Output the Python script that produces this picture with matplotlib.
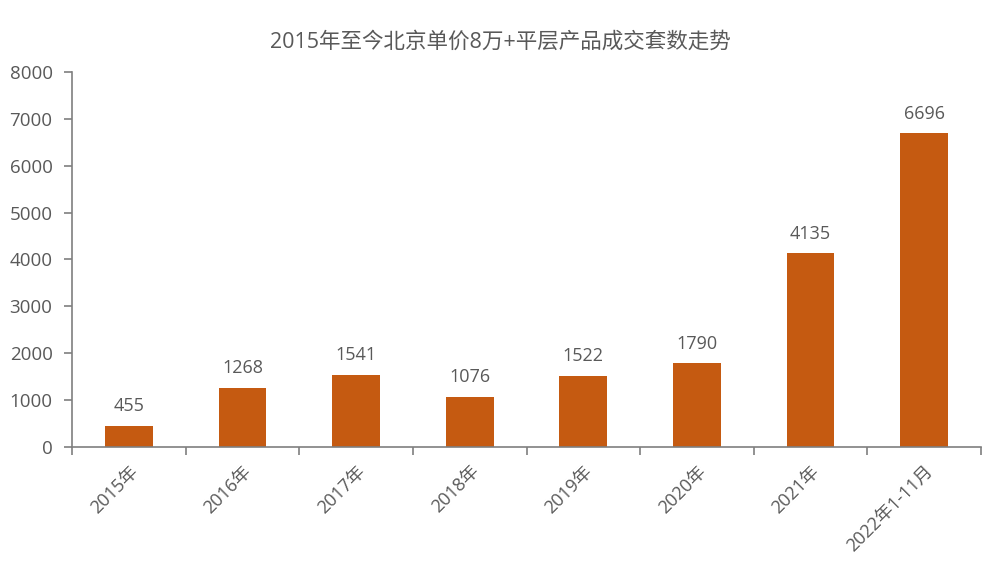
import numpy as np
import matplotlib.pyplot as plt
from matplotlib.ticker import FixedLocator

plt.rcParams['font.family'] = ['Open Sans', 'Noto Sans CJK SC', 'DejaVu Sans']

# data
categories = ['2015年', '2016年', '2017年', '2018年', '2019年', '2020年', '2021年', '2022年1-11月']
values = [455, 1268, 1541, 1076, 1522, 1790, 4135, 6696]

bar_color = '#C55A11'
text_color = '#595959'
axis_color = '#7f7f7f'

fig = plt.figure(figsize=(10, 5.76), dpi=100)
ax = fig.add_axes([0.072, 0.224, 0.909, 0.651])

x = np.arange(len(categories))
ax.bar(x, values, width=0.42, color=bar_color)

for xi, v in zip(x, values):
    ax.text(xi, v + 220, str(v), ha='center', va='bottom', fontsize=13, color=text_color)

ax.set_xlim(-0.5, len(categories) - 0.5)
ax.set_ylim(0, 8000)
ax.set_yticks(range(0, 8001, 1000))
ax.tick_params(axis='y', labelsize=13.5, colors=text_color, color=axis_color, length=6, width=1.2, pad=8)

# ticks at category boundaries, labels at centers
ax.xaxis.set_major_locator(FixedLocator(np.arange(-0.5, len(categories), 1.0)))
ax.xaxis.set_minor_locator(FixedLocator(x))
ax.set_xticklabels([], minor=False)
ax.set_xticklabels(categories, minor=True, rotation=45, ha='right', rotation_mode='anchor')
ax.tick_params(axis='x', which='major', length=6, width=1.2, color=axis_color)
ax.tick_params(axis='x', which='minor', length=0, pad=11, labelsize=13, labelcolor=text_color)

for s in ['top', 'right']:
    ax.spines[s].set_visible(False)
for s in ['left', 'bottom']:
    ax.spines[s].set_color(axis_color)
    ax.spines[s].set_linewidth(1.2)

fig.suptitle('2015年至今北京单价8万+平层产品成交套数走势', y=0.945, fontsize=15.5, color=text_color)

fig.savefig('out.png', dpi=100)
